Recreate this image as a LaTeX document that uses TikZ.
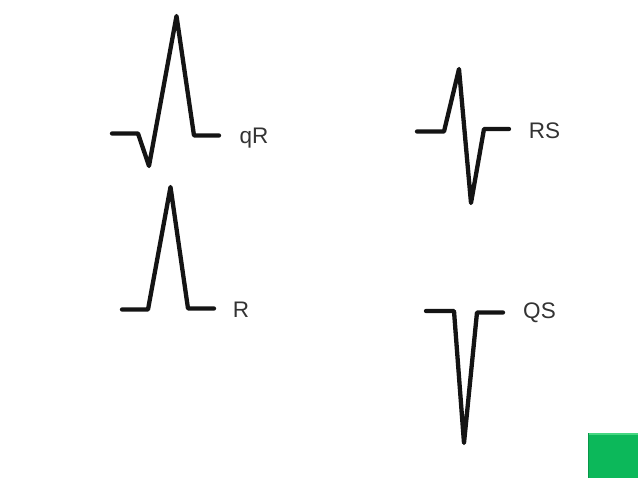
\documentclass[tikz,border=0pt]{standalone}
\usepackage{fontspec}
\setmainfont{Liberation Sans}
\definecolor{boxgreen}{RGB}{12,184,90}
\definecolor{boxedge}{RGB}{70,215,130}
\definecolor{boxside}{RGB}{8,150,72}
\begin{document}
\begin{tikzpicture}[x=1pt,y=-1pt,line join=round,line cap=round]
  \tikzstyle{wave} = [line width=4.3pt,black!92]
  \tikzstyle{tag} = [font=\fontsize{22.5}{24}\selectfont,text=black!80,inner sep=0pt]
  \useasboundingbox (0,0) rectangle (638,478);
  % qR
  \draw[wave] (112,133.5) -- (138,133.5) -- (149,166) -- (176.5,16) -- (194,135.5) -- (219,135.5);
  \node[tag] (qr) at (254,138.5) {qR};
  % R
  \draw[wave] (122,309.5) -- (148,309.5) -- (170.5,187) -- (188,308.5) -- (214,308.5);
  \node[tag] (r) at (241,310) {R};
  % RS
  \draw[wave] (417,131.5) -- (444,131.5) -- (459,69) -- (471,203) -- (484,129) -- (509,129);
  \node[tag] (rs) at (544.5,131) {RS};
  % QS
  \draw[wave] (426,311) -- (454,311) -- (464,443) -- (477,312.5) -- (503,312.5);
  \node[tag] (qs) at (539.5,313) {QS};
  % corner box
  \node[fill=boxgreen,minimum width=50pt,minimum height=45pt,inner sep=0pt,anchor=north west] (box) at (588,433) {};
  \fill[boxedge] (box.north west) rectangle ([yshift=-2.5pt]box.north east);
  \fill[boxside] (box.north west) rectangle ([xshift=1.2pt]box.south west);
\end{tikzpicture}
\end{document}
